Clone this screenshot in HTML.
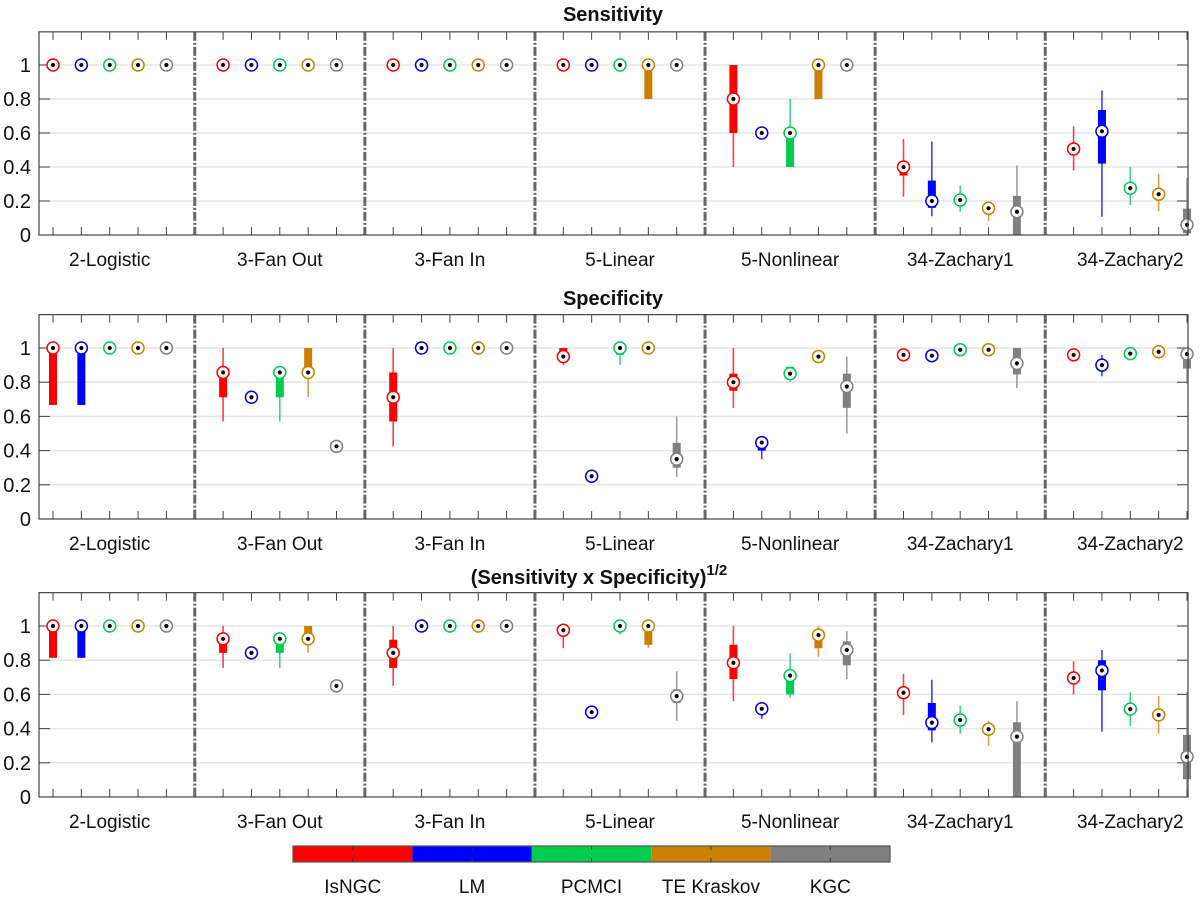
<!DOCTYPE html>
<html><head><meta charset="utf-8"><style>
html,body{margin:0;padding:0;background:#fff;}
svg text{font-family:"Liberation Sans",Arial,sans-serif;fill:#111;}
</style></head><body>
<svg id="chart" width="1200" height="899" viewBox="0 0 1200 899" xmlns="http://www.w3.org/2000/svg">
<text x="613" y="21" text-anchor="middle" font-size="20" font-weight="bold">Sensitivity</text>
<text x="613" y="305" text-anchor="middle" font-size="20" font-weight="bold">Specificity</text>
<text x="599" y="584" text-anchor="middle" font-size="20" font-weight="bold">(Sensitivity x Specificity)<tspan dy="-9" font-size="15">1/2</tspan></text>
</svg>
<script>
const categories = ["2-Logistic","3-Fan Out","3-Fan In","5-Linear","5-Nonlinear","34-Zachary1","34-Zachary2"];
const methods = ["IsNGC","LM","PCMCI","TE Kraskov","KGC"];
const colors = ["#ff0000","#0000ff","#00cc4e","#cc8000","#808080"];
const yTicks = [0,0.2,0.4,0.6,0.8,1];
const yTickLabels = ["0","0.2","0.4","0.6","0.8","1"];

const sensMed = [1,1,1,1,1, 1,1,1,1,1, 1,1,1,1,1, 1,1,1,1,1, .8,.6,.6,1,1, .40,.20,.206,.157,.137, .506,.61,.275,.24,.06];
const sensQ1  = [1,1,1,1,1, 1,1,1,1,1, 1,1,1,1,1, 1,1,1,.8,1, .6,.6,.4,.8,1, .35,.16,.19,.15,0, .47,.42,.26,.22,.01];
const sensQ3  = [1,1,1,1,1, 1,1,1,1,1, 1,1,1,1,1, 1,1,1,1,1, 1,.6,.6,1,1, .43,.32,.22,.17,.23, .52,.735,.29,.26,.155];
const sensLo  = [1,1,1,1,1, 1,1,1,1,1, 1,1,1,1,1, 1,1,1,.8,1, .4,.6,.4,.8,1, .225,.11,.137,.08,0, .38,.107,.176,.14,0];
const sensHi  = [1,1,1,1,1, 1,1,1,1,1, 1,1,1,1,1, 1,1,1,1,1, 1,.6,.8,1,1, .565,.55,.29,.196,.41, .64,.85,.40,.36,.335];

const specMed = [1,1,1,1,1, .857,.712,.857,.857,.425, .712,1,1,1,1, .95,.25,1,1,.35, .8,.447,.85,.95,.775, .96,.955,.99,.99,.91, .96,.9,.967,.978,.965];
const specQ1  = [.667,.667,1,1,1, .712,.712,.712,.857,.425, .57,1,1,1,1, .95,.25,.96,1,.30, .75,.40,.85,.95,.65, .96,.955,.99,.99,.845, .96,.9,.967,.978,.88];
const specQ3  = [1,1,1,1,1, .857,.712,.857,1,.425, .857,1,1,1,1, 1,.25,1,1,.445, .85,.447,.89,.95,.85, .96,.955,.99,.99,1, .96,.9,.967,.978,.965];
const specLo  = [.667,.667,1,1,1, .57,.712,.57,.712,.425, .425,1,1,1,1, .9,.25,.9,1,.245, .65,.35,.8,.95,.5, .96,.94,.99,.99,.765, .96,.835,.967,.978,.79];
const specHi  = [1,1,1,1,1, 1,.712,.857,1,.425, 1,1,1,1,1, 1,.25,1,1,.6, 1,.447,.89,.95,.95, .96,.97,.99,.99,1, .96,.96,.967,.978,.965];

const geoMed = [1,1,1,1,1, .925,.843,.925,.925,.65, .843,1,1,1,1, .975,.496,1,1,.59, .785,.516,.71,.947,.86, .61,.435,.45,.396,.353, .696,.74,.514,.48,.235];
const geoQ1  = [.814,.814,1,1,1, .843,.843,.843,.925,.65, .755,1,1,1,1, .975,.496,1,.89,.55, .69,.516,.6,.87,.77, .61,.39,.45,.396,0, .696,.624,.514,.47,.104];
const geoQ3  = [1,1,1,1,1, .925,.843,.925,1,.65, .92,1,1,1,1, .975,.496,1,1,.63, .89,.516,.71,.947,.91, .61,.55,.45,.396,.437, .696,.80,.514,.5,.363];
const geoLo  = [.814,.814,1,1,1, .755,.843,.755,.843,.65, .65,1,1,1,1, .87,.496,.95,.87,.445, .56,.457,.58,.82,.69, .48,.32,.37,.30,0, .60,.382,.416,.37,0];
const geoHi  = [1,1,1,1,1, 1,.843,.925,1,.65, 1,1,1,1,1, 1,.496,1,1,.735, 1,.516,.84,1,.97, .72,.686,.533,.445,.56, .794,.86,.614,.59,.614];

const NS = "http://www.w3.org/2000/svg";
const svg = document.getElementById('chart');
function mk(tag, attrs, parent){ const e=document.createElementNS(NS,tag); for(const k in attrs) e.setAttribute(k,attrs[k]); (parent||svg).appendChild(e); return e; }

const X0 = 39, X1 = 1188;
function xPos(p){ return 53 + (p-1)*28.35; }

const panels = [
  {name:"sensitivity", y0:235, s:170, med:sensMed,q1:sensQ1,q3:sensQ3,lo:sensLo,hi:sensHi, labY:266},
  {name:"specificity", y0:519, s:171, med:specMed,q1:specQ1,q3:specQ3,lo:specLo,hi:specHi, labY:550},
  {name:"geometric-mean", y0:797, s:171, med:geoMed,q1:geoQ1,q3:geoQ3,lo:geoLo,hi:geoHi, labY:828}
];

panels.forEach(P=>{
  const yS = v => P.y0 - v*P.s;
  const top = P.y0 - 1.195*P.s;
  const g = mk('g',{});
  
  
  yTicks.forEach((t,i)=>{
    if(t>0){
      const gl = mk('line',{x1:X0,x2:X1,y1:yS(t),y2:yS(t),stroke:'#e6e6e6','stroke-width':1.5},g);
      
      
    }
    mk('line',{x1:X0,x2:X0+11,y1:yS(t),y2:yS(t),stroke:'#444','stroke-width':1},g);
    mk('line',{x1:X1-11,x2:X1,y1:yS(t),y2:yS(t),stroke:'#444','stroke-width':1},g);
    const tl = mk('text',{x:31,y:yS(t)+7,'text-anchor':'end','font-size':20},g);
    tl.textContent = yTickLabels[i];
    
    
  });
  for(let p=1;p<=41;p++){
    if(p%6===0) continue;
    mk('line',{x1:xPos(p),x2:xPos(p),y1:top,y2:top+8,stroke:'#444','stroke-width':1},g);
    mk('line',{x1:xPos(p),x2:xPos(p),y1:P.y0-8,y2:P.y0,stroke:'#444','stroke-width':1},g);
  }
  for(let k=1;k<categories.length;k++){
    const sx = xPos(k*6);
    const sp = mk('line',{x1:sx,x2:sx,y1:top,y2:P.y0,stroke:'#666','stroke-width':3,'stroke-dasharray':'9,2,2,2'},g);
    
    
  }
  categories.forEach((c,k)=>{
    const t = mk('text',{x:xPos(k*6+3),y:P.labY,'text-anchor':'middle','font-size':19},g);
    t.textContent = c;
    
    
  });
  categories.forEach((c,k)=>{
    methods.forEach((m,j)=>{
      const i = k*5+j, x = xPos(k*6+j+1), col = colors[j];
      const bg = mk('g',{},g);
      
      
      if(P.hi[i]!==P.lo[i]) mk('line',{x1:x,x2:x,y1:yS(P.lo[i]),y2:yS(P.hi[i]),stroke:col,'stroke-width':1.6,'stroke-opacity':0.75},bg);
      if(P.q3[i]!==P.q1[i]) mk('rect',{x:x-4,y:yS(P.q3[i]),width:8,height:yS(P.q1[i])-yS(P.q3[i]),fill:col},bg);
      mk('circle',{cx:x,cy:yS(P.med[i]),r:6,fill:'#fff',stroke:col,'stroke-width':1.5},bg);
      mk('circle',{cx:x,cy:yS(P.med[i]),r:2.1,fill:'#000'},bg);
    });
  });
  const fr = mk('rect',{x:X0,y:top,width:X1-X0,height:P.y0-top,fill:'none',stroke:'#444','stroke-width':1.2},g);
  
  
});

const lg = mk('g',{});


const cbX=293, cbW=597, cbY=846, cbH=16;
methods.forEach((m,j)=>{
  const segW = cbW/5;
  const r = mk('rect',{x:cbX+j*segW,y:cbY,width:segW,height:cbH,fill:colors[j]},lg);
  
  
  const tx = cbX + (j+0.5)*segW;
  mk('line',{x1:tx,x2:tx,y1:cbY,y2:cbY+4,stroke:'#333','stroke-width':1},lg);
  mk('line',{x1:tx,x2:tx,y1:cbY+cbH-4,y2:cbY+cbH,stroke:'#333','stroke-width':1},lg);
  const t = mk('text',{x:tx,y:893,'text-anchor':'middle','font-size':19},lg);
  t.textContent = m;
  
  
});
mk('rect',{x:cbX,y:cbY,width:cbW,height:cbH,fill:'none',stroke:'#555','stroke-width':1.2},lg);
</script>
</body></html>
